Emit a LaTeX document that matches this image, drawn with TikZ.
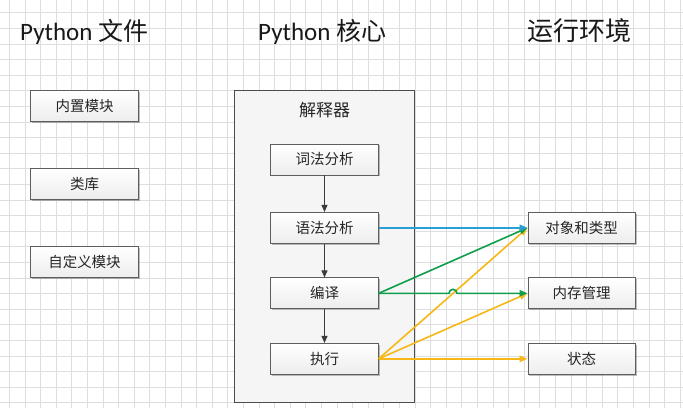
\documentclass[tikz,border=0pt]{standalone}
\usepackage{fontspec}
\setmainfont{Carlito}
\newfontfamily\cjk{Noto Sans CJK SC}
\usetikzlibrary{arrows.meta,shadows}
\definecolor{gridc}{HTML}{DEDEDE}
\definecolor{boxline}{HTML}{5E5E5E}
\definecolor{lblue}{HTML}{2A9FD4}
\definecolor{lgreen}{HTML}{0F9E4C}
\definecolor{lyellow}{HTML}{F7B816}
\definecolor{darrow}{HTML}{3A3A3A}
\tikzset{
  heading/.style={font=\fontsize{25}{28}\selectfont, anchor=base west, inner sep=0pt, text=black!90},
  itembox/.style={draw=boxline, line width=0.8pt, top color=white, bottom color=gray!14,
    minimum width=107.6pt, minimum height=31pt, inner sep=0pt,
    font=\cjk\fontsize{14.5}{16}\selectfont, text=black!85,
    drop shadow={shadow xshift=1.2pt, shadow yshift=-1.2pt, opacity=0.25, fill=black}},
  container/.style={draw=gray!60!black, line width=1pt, fill=gray!8,
    minimum width=180.3pt, minimum height=312.7pt, inner sep=0pt},
  flow/.style={darrow, line width=1pt, -{Triangle[length=7pt,width=6pt]}},
  link/.style={line width=1.6pt, -{Triangle[length=8pt,width=6.5pt]}},
}
\begin{document}
\begin{tikzpicture}[x=1pt,y=-1pt]
\useasboundingbox (0,0) rectangle (683,408);
\fill[white] (0,0) rectangle (683,408);
% grid
\foreach \i in {0,...,43} {\draw[gridc, line width=0.6pt] ({9.3+15.6*\i},0) -- ({9.3+15.6*\i},408);}
\foreach \j in {0,...,25} {\draw[gridc, line width=0.6pt] (0,{12.7+15.6*\j}) -- (683,{12.7+15.6*\j});}

% headings
\node[heading] (h1) at (20,40.7) {Python {\cjk 文件}};
\node[heading] (h2) at (258,40.7) {Python {\cjk 核心}};
\node[heading, font=\cjk\fontsize{26}{28}\selectfont] (h3) at (527,40.7) {运行环境};

% left column
\node[itembox] (m1) at (84.5,106.2) {内置模块};
\node[itembox] (m2) at (84.5,183.8) {类库};
\node[itembox] (m3) at (84.5,262) {自定义模块};

% interpreter
\node[container] (interp) at (324.15,246.35) {};
\node[font=\cjk\fontsize{17}{19}\selectfont, text=black!85] (title) at (324.5,110) {解释器};
\node[itembox] (lex) at (324.5,159.5) {词法分析};
\node[itembox] (syn) at (324.5,227.8) {语法分析};
\node[itembox] (comp) at (324.5,293.3) {编译};
\node[itembox] (exec) at (324.5,358.8) {执行};

% right column
\node[itembox] (obj) at (581.7,227.8) {对象和类型};
\node[itembox] (mem) at (581.7,293.3) {内存管理};
\node[itembox] (state) at (581.7,358.8) {状态};

% flow
\draw[flow] (lex) -- (syn);
\draw[flow] (syn) -- (comp);
\draw[flow] (comp) -- (exec);

% links
\coordinate (hopA) at (449,293.3);
\draw[link, lyellow] (exec.east) -- (obj.west);
\draw[link, lyellow] (exec.east) -- (mem.west);
\draw[link, lyellow] (exec.east) -- (state.west);
\draw[link, lgreen] (comp.east) -- (obj.west);
\draw[link, lgreen] (comp.east) -- (hopA) arc[start angle=180, end angle=360, radius=4] -- (mem.west);
\draw[link, lblue] (syn.east) -- (obj.west);
\end{tikzpicture}
\end{document}
